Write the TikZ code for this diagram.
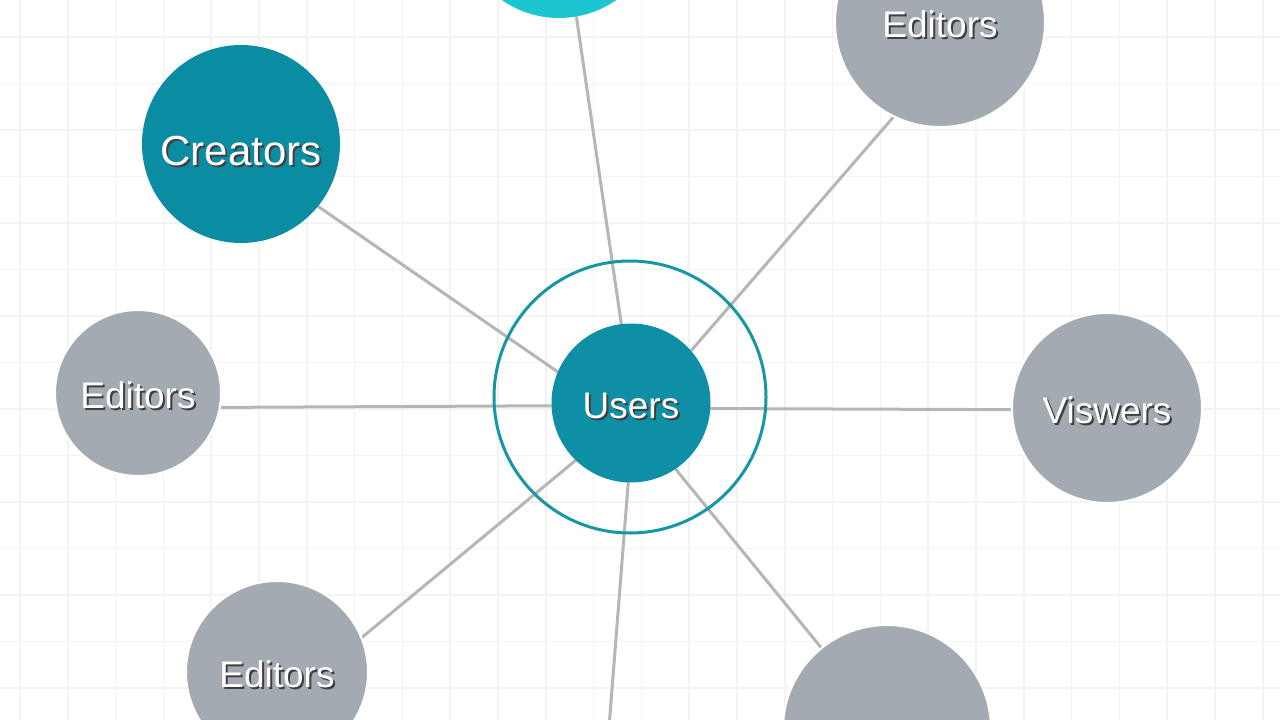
\documentclass[tikz,border=0pt]{standalone}
\usepackage{fontspec}
\setmainfont{Liberation Sans}
\definecolor{tealc}{HTML}{0E8FA5}
\definecolor{creatc}{HTML}{0A8CA3}
\definecolor{cyanc}{HTML}{1CC5CF}
\definecolor{ringc}{HTML}{1797A6}
\definecolor{grayc}{HTML}{A3AAB1}
\definecolor{edgec}{HTML}{B6B6B6}
\definecolor{gridc}{HTML}{F3F3F3}
\newcommand\shtxt[1]{\makebox[0pt][l]{\hspace{2pt}\raisebox{-2pt}{\textcolor{black!75}{#1}}}#1}
\pgfdeclarelayer{gridl}
\pgfdeclarelayer{edgel}
\pgfsetlayers{gridl,edgel,main}
\tikzset{
  bubble/.style={circle, inner sep=0pt, outer sep=0pt, text=white},
  graybubble/.style={bubble, fill=grayc, draw=white, line width=2pt},
  tealbubble/.style={bubble, fill=tealc},
  label37/.style={font=\fontsize{37}{40}\selectfont, text height=30pt, text depth=0pt},
  label42/.style={font=\fontsize{42}{46}\selectfont, text height=42pt, text depth=0pt},
  link/.style={draw=edgec, line width=3pt},
  ringstyle/.style={circle, draw=ringc, line width=3pt, inner sep=0pt, outer sep=0pt}
}
\begin{document}
\begin{tikzpicture}[x=1pt,y=-1pt]
\useasboundingbox (0,0) rectangle (1280,720);
\begin{pgfonlayer}{gridl}
\fill[white] (0,0) rectangle (1280,720);
\foreach \i in {0,...,26} {\draw[gridc, line width=1.6pt] ({20+47.8*\i},0) -- ({20+47.8*\i},720);}
\foreach \j in {0,...,15} {\draw[gridc, line width=1.6pt] (0,{37+46.5*\j}) -- (1280,{37+46.5*\j});}
\end{pgfonlayer}

\node[ringstyle, minimum size=272pt] (ring) at (630,397) {};
\node[tealbubble, label37, minimum size=159pt] (users) at (631,403) {\shtxt{Users}};
\node[bubble, fill=cyanc, minimum size=200pt] (top) at (559,-82) {};
\node[bubble, fill=creatc, label42, minimum size=198pt] (creators) at (241,144) {\shtxt{Creators}};
\node[graybubble, label37, minimum size=210pt] (edTR) at (940,22) {\shtxt{Editors}};
\node[graybubble, label37, minimum size=166pt] (edL) at (138,393) {\shtxt{Editors}};
\node[graybubble, label37, minimum size=190pt] (view) at (1107,408) {\shtxt{Viswers}};
\node[graybubble, label37, minimum size=182pt] (edBL) at (277,672) {\shtxt{Editors}};
\node[graybubble, minimum size=208pt] (grBR) at (887,729) {};
\coordinate (bottom) at (608,740);

\begin{pgfonlayer}{edgel}
\draw[link] (users.97) -- (top.280);
\draw[link] (users.41.6) -- (edTR.244);
\draw[link] (users.157.7) -- (creators.321);
\draw[link] (users.182) -- (edL.350);
\draw[link] (users.356.4) -- (view.181);
\draw[link] (users.226) -- (edBL.22.5);
\draw[link] (users.268.5) -- (bottom);
\draw[link] (users.304) -- (grBR.129);
\end{pgfonlayer}
\end{tikzpicture}
\end{document}
